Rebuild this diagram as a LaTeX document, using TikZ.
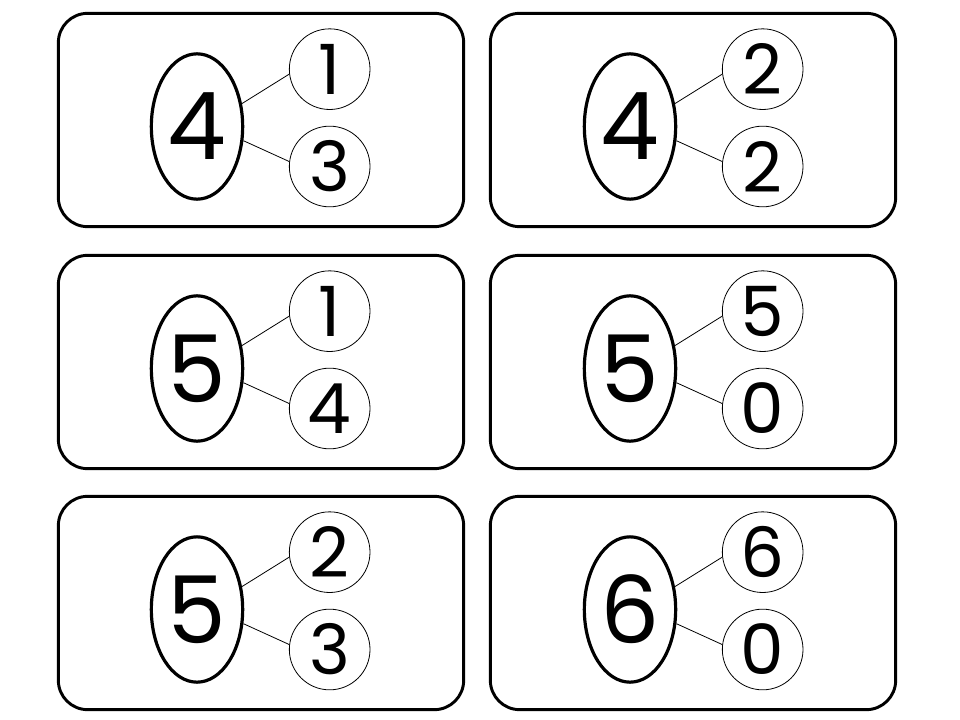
\documentclass[tikz,border=0pt]{standalone}
\usepackage{fontspec}
\setmainfont{Poppins}
\usetikzlibrary{shapes.geometric, positioning}
\tikzstyle{cardNode} = [rectangle, minimum width=304pt, minimum height=160pt, rounded corners=22pt, draw=black, line width=2.2pt]
\tikzstyle{wholeNode} = [ellipse, minimum width=68.5pt, minimum height=109pt, inner sep=0pt, text centered, draw=black, line width=2.4pt, font=\fontsize{70}{70}\selectfont]
\tikzstyle{partNode} = [circle, minimum size=60.5pt, inner sep=0pt, text centered, draw=black, line width=0.6pt, font=\fontsize{52}{52}\selectfont]
\tikzstyle{link} = [line width=0.6pt, draw=black]

\begin{document}
\begin{tikzpicture}[x=0.75pt, y=-0.75pt, node distance=99.5pt]
    \useasboundingbox (0,0) rectangle (960,720);

    \node (card1) [cardNode] at (261,120) {};
    \node (card2) [cardNode] at (693,120) {};
    \node (card3) [cardNode] at (261,362) {};
    \node (card4) [cardNode] at (693,362) {};
    \node (card5) [cardNode] at (261,603) {};
    \node (card6) [cardNode] at (693,603) {};

    \node (whole1) [wholeNode] at (197,126.5) {4};
    \node (top1) [partNode, right of=whole1, yshift=43pt] {1};
    \node (bot1) [partNode, right of=whole1, yshift=-30pt] {3};

    \node (whole2) [wholeNode] at (630,126.5) {4};
    \node (top2) [partNode, right of=whole2, yshift=43pt] {2};
    \node (bot2) [partNode, right of=whole2, yshift=-30pt] {2};

    \node (whole3) [wholeNode] at (197,368.5) {5};
    \node (top3) [partNode, right of=whole3, yshift=43pt] {1};
    \node (bot3) [partNode, right of=whole3, yshift=-30pt] {4};

    \node (whole4) [wholeNode] at (630,368.5) {5};
    \node (top4) [partNode, right of=whole4, yshift=43pt] {5};
    \node (bot4) [partNode, right of=whole4, yshift=-30pt] {0};

    \node (whole5) [wholeNode] at (197,609.5) {5};
    \node (top5) [partNode, right of=whole5, yshift=43pt] {2};
    \node (bot5) [partNode, right of=whole5, yshift=-30pt] {3};

    \node (whole6) [wholeNode] at (630,609.5) {6};
    \node (top6) [partNode, right of=whole6, yshift=43pt] {6};
    \node (bot6) [partNode, right of=whole6, yshift=-30pt] {0};

    \draw [link] (whole1.27) -- (top1.187);
    \draw [link] (whole1.-17) -- (bot1.173);
    \draw [link] (whole2.27) -- (top2.187);
    \draw [link] (whole2.-17) -- (bot2.173);
    \draw [link] (whole3.27) -- (top3.187);
    \draw [link] (whole3.-17) -- (bot3.173);
    \draw [link] (whole4.27) -- (top4.187);
    \draw [link] (whole4.-17) -- (bot4.173);
    \draw [link] (whole5.27) -- (top5.187);
    \draw [link] (whole5.-17) -- (bot5.173);
    \draw [link] (whole6.27) -- (top6.187);
    \draw [link] (whole6.-17) -- (bot6.173);

\end{tikzpicture}
\end{document}
